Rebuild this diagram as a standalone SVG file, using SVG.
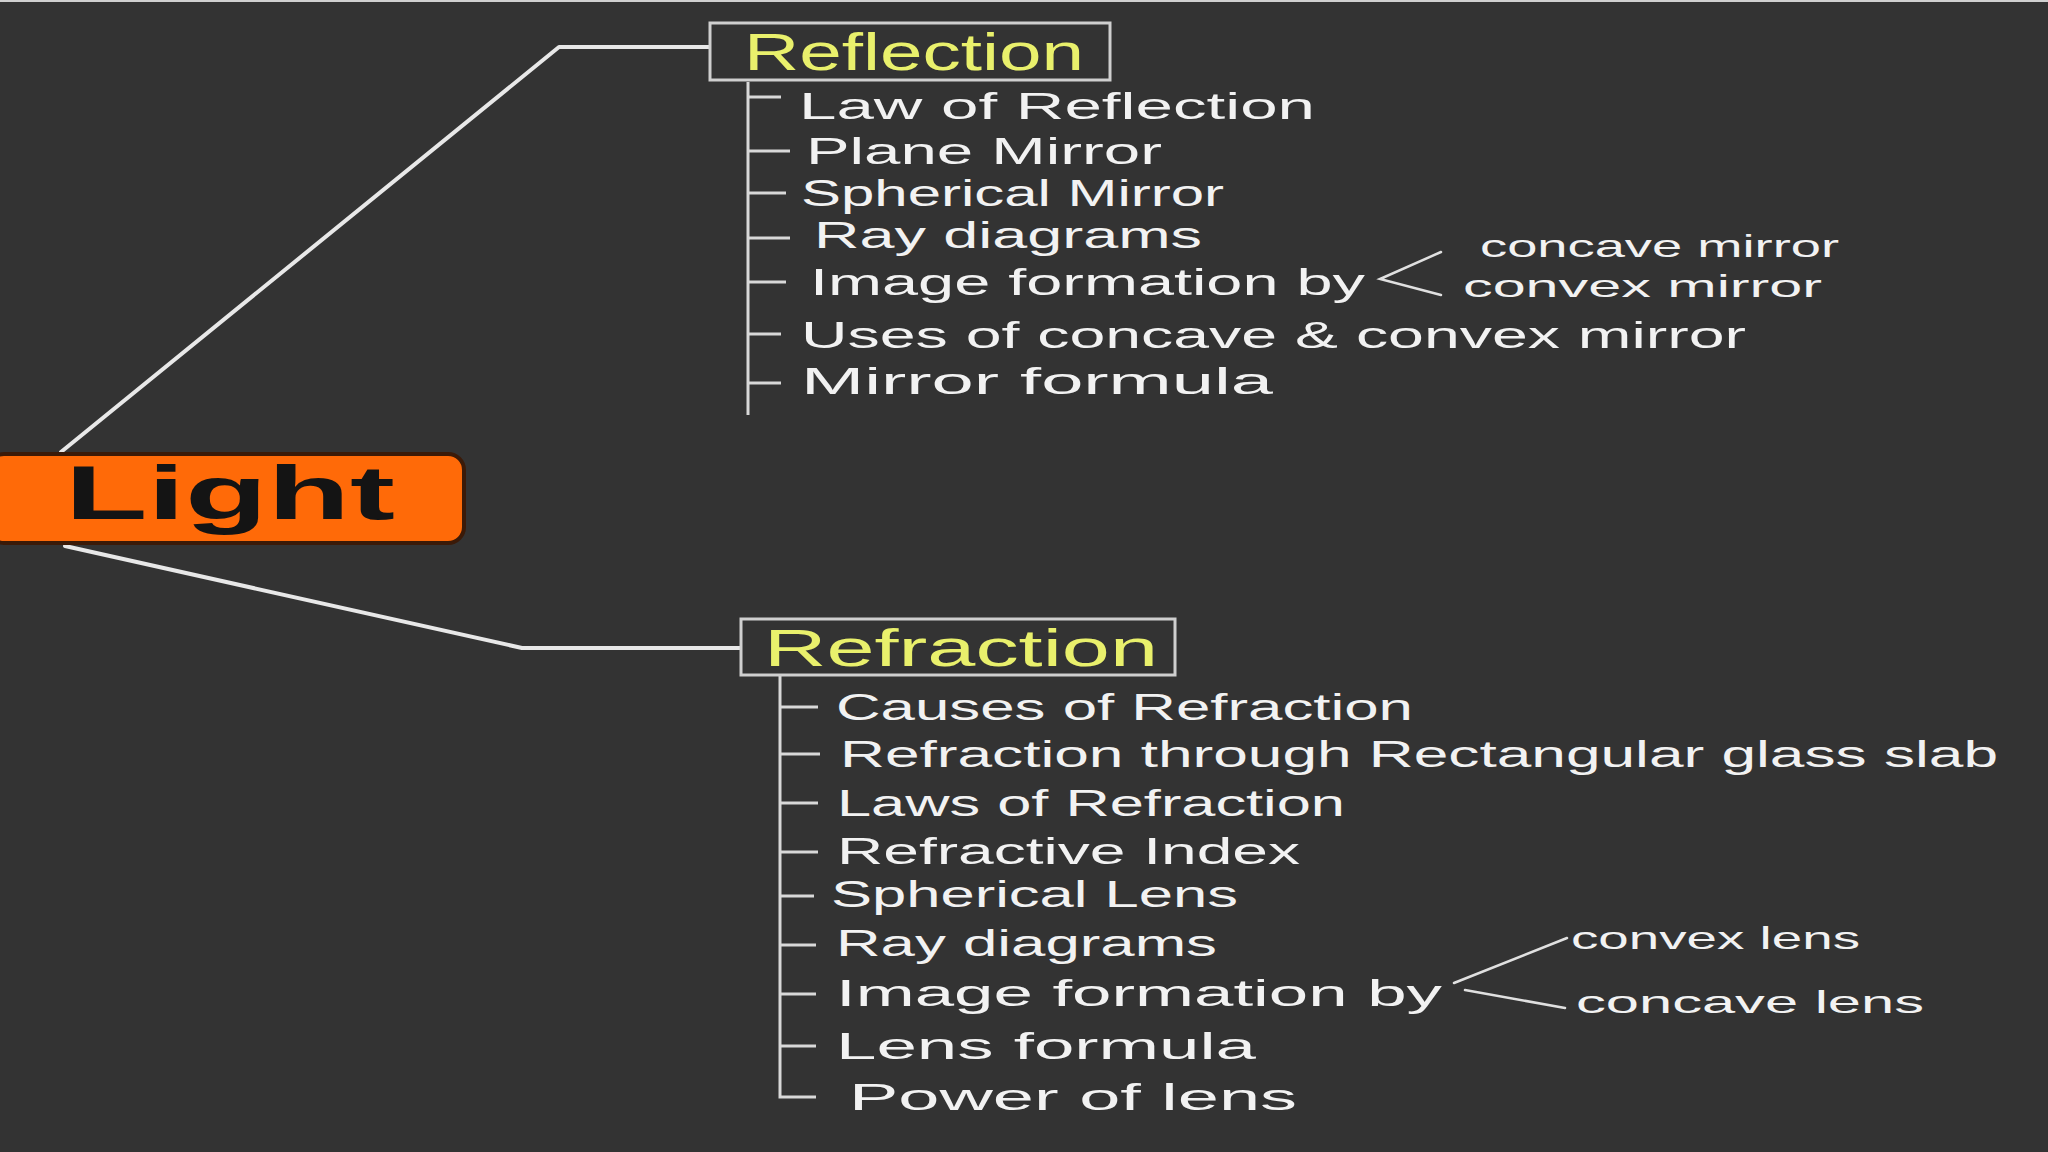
<svg xmlns="http://www.w3.org/2000/svg" width="2048" height="1152" viewBox="0 0 2048 1152">
<style>
.bg{fill:#333333}
.conn{fill:none;stroke:#e8e8e8;stroke-width:4;stroke-linecap:round;stroke-linejoin:round}
.tree{fill:none;stroke:#d8d8d8;stroke-width:3}
.thin{fill:none;stroke:#e0e0e0;stroke-width:2.5;stroke-linecap:round}
.title{fill:none;stroke:#cfcfcf;stroke-width:3}
.tt{font-family:"Liberation Sans",Arial,sans-serif;font-size:52px;fill:#e9f06c}
.it{font-family:"Liberation Sans",Arial,sans-serif;font-size:36px;fill:#f2f2f2}
.sm{font-family:"Liberation Sans",Arial,sans-serif;font-size:32px;fill:#f2f2f2}
.root{font-family:"Liberation Sans",Arial,sans-serif;font-size:76px;font-weight:bold;fill:#141414}
</style>
<rect class="bg" x="0" y="0" width="2048" height="1152"/>
<rect x="0" y="0" width="2048" height="2" fill="#d0d0d0"/>

<g id="connectors">
  <polyline class="conn" points="61,452 559,47 709,47"/>
  <polyline class="conn" points="65,546 522,648 740,648"/>
  <line class="tree" x1="748" y1="82" x2="748" y2="415"/>
  <line class="tree" x1="748" y1="97" x2="781" y2="97"/>
  <line class="tree" x1="748" y1="151" x2="790" y2="151"/>
  <line class="tree" x1="748" y1="193" x2="786" y2="193"/>
  <line class="tree" x1="748" y1="238" x2="790" y2="238"/>
  <line class="tree" x1="748" y1="282" x2="786" y2="282"/>
  <line class="tree" x1="748" y1="334" x2="781" y2="334"/>
  <line class="tree" x1="748" y1="383" x2="781" y2="383"/>
  <polyline class="thin" points="1441,252 1380,279 1441,295"/>
  <polyline class="tree" points="780,676 780,1097 816,1097"/>
  <line class="tree" x1="780" y1="707" x2="818" y2="707"/>
  <line class="tree" x1="780" y1="754" x2="820" y2="754"/>
  <line class="tree" x1="780" y1="803" x2="818" y2="803"/>
  <line class="tree" x1="780" y1="852" x2="818" y2="852"/>
  <line class="tree" x1="780" y1="896" x2="814" y2="896"/>
  <line class="tree" x1="780" y1="945" x2="816" y2="945"/>
  <line class="tree" x1="780" y1="994" x2="816" y2="994"/>
  <line class="tree" x1="780" y1="1046" x2="816" y2="1046"/>
  <line class="thin" x1="1454" y1="983" x2="1567" y2="938"/>
  <line class="thin" x1="1465" y1="990" x2="1565" y2="1008"/>
</g>

<g id="light">
  <rect x="-12" y="454" width="476" height="89" rx="16" ry="16" fill="#ff6a08" stroke="#3b1a08" stroke-width="4"/>
  <text class="root" x="65" y="519" textLength="330" lengthAdjust="spacingAndGlyphs">Light</text>
</g>

<g id="reflection">
  <rect class="title" x="710" y="23" width="400" height="57"/>
  <text class="tt" x="744" y="70" textLength="340" lengthAdjust="spacingAndGlyphs">Reflection</text>
</g>
<g id="r1"><text class="it" x="799" y="119" textLength="516" lengthAdjust="spacingAndGlyphs">Law of Reflection</text></g>
<g id="r2"><text class="it" x="806" y="164" textLength="356" lengthAdjust="spacingAndGlyphs">Plane Mirror</text></g>
<g id="r3"><text class="it" x="801" y="206" textLength="423" lengthAdjust="spacingAndGlyphs">Spherical Mirror</text></g>
<g id="r4"><text class="it" x="814" y="248" textLength="388" lengthAdjust="spacingAndGlyphs">Ray diagrams</text></g>
<g id="r5"><text class="it" x="810" y="295" textLength="555" lengthAdjust="spacingAndGlyphs">Image formation by</text></g>
<g id="r5a"><text class="sm" x="1480" y="257" textLength="359" lengthAdjust="spacingAndGlyphs">concave mirror</text></g>
<g id="r5b"><text class="sm" x="1463" y="297" textLength="359" lengthAdjust="spacingAndGlyphs">convex mirror</text></g>
<g id="r6"><text class="it" x="801" y="348" textLength="945" lengthAdjust="spacingAndGlyphs">Uses of concave &amp; convex mirror</text></g>
<g id="r7"><text class="it" x="801" y="394" textLength="472" lengthAdjust="spacingAndGlyphs">Mirror formula</text></g>

<g id="refraction">
  <rect class="title" x="741" y="619" width="434" height="56"/>
  <text class="tt" x="764" y="666" textLength="394" lengthAdjust="spacingAndGlyphs">Refraction</text>
</g>
<g id="f1"><text class="it" x="836" y="720" textLength="577" lengthAdjust="spacingAndGlyphs">Causes of Refraction</text></g>
<g id="f2"><text class="it" x="840" y="767" textLength="1158" lengthAdjust="spacingAndGlyphs">Refraction through Rectangular glass  slab</text></g>
<g id="f3"><text class="it" x="837" y="816" textLength="508" lengthAdjust="spacingAndGlyphs">Laws of Refraction</text></g>
<g id="f4"><text class="it" x="837" y="864" textLength="463" lengthAdjust="spacingAndGlyphs">Refractive Index</text></g>
<g id="f5"><text class="it" x="831" y="907" textLength="407" lengthAdjust="spacingAndGlyphs">Spherical Lens</text></g>
<g id="f6"><text class="it" x="836" y="956" textLength="381" lengthAdjust="spacingAndGlyphs">Ray diagrams</text></g>
<g id="f7"><text class="it" x="836" y="1006" textLength="606" lengthAdjust="spacingAndGlyphs">Image formation by</text></g>
<g id="f7a"><text class="sm" x="1571" y="949" textLength="289" lengthAdjust="spacingAndGlyphs">convex lens</text></g>
<g id="f7b"><text class="sm" x="1576" y="1013" textLength="348" lengthAdjust="spacingAndGlyphs">concave lens</text></g>
<g id="f8"><text class="it" x="836" y="1059" textLength="420" lengthAdjust="spacingAndGlyphs">Lens formula</text></g>
<g id="f9"><text class="it" x="849" y="1110" textLength="448" lengthAdjust="spacingAndGlyphs">Power of lens</text></g>
</svg>
